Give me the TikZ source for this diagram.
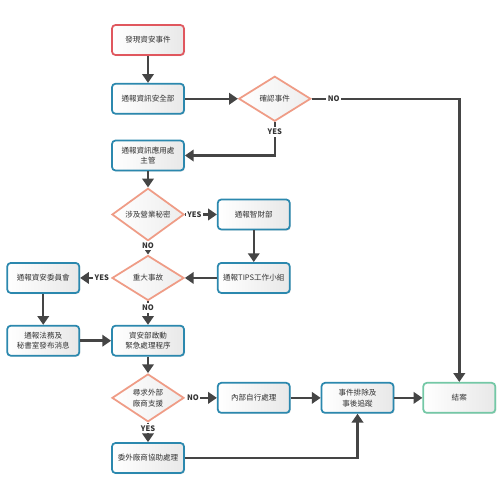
\documentclass[tikz,border=0pt]{standalone}
\usepackage{fontspec}
\setmainfont{Noto Sans CJK TC}
\usepackage{xcolor}
\usepackage{tikz}
\usetikzlibrary{shapes.geometric, arrows.meta, positioning, shadows}

\definecolor{boxblue}{HTML}{2B88AE}
\definecolor{decsalmon}{HTML}{EF9C86}
\definecolor{startred}{HTML}{E0575E}
\definecolor{endgreen}{HTML}{74C8A6}
\definecolor{lineg}{HTML}{454545}
\definecolor{txtg}{HTML}{333333}

\begin{document}
\begin{tikzpicture}[
  every node/.style={font=\fontsize{4.3}{6}\selectfont, text=txtg},
  proc/.style={rectangle, rounded corners=2pt, draw=boxblue, line width=1pt,
    left color=white, right color=black!9, minimum width=1.44cm, minimum height=0.6cm,
    align=center, inner sep=1pt,
    drop shadow={opacity=0.18, shadow xshift=0.6pt, shadow yshift=-0.6pt}},
  check/.style={diamond, draw=decsalmon, line width=1pt, left color=white, right color=black!7,
    minimum width=1.44cm, minimum height=0.9cm, inner sep=0pt, align=center},
  arrow/.style={-{Triangle[length=5pt, width=6.5pt]}, line width=1.4pt, lineg},
  lbl/.style={fill=white, inner sep=1pt, font=\fontsize{4.3}{5}\selectfont\bfseries, text=txtg},
]

\useasboundingbox[fill=white] (0,0) rectangle (10,-10);

% main column
\node[proc, draw=startred] (found) at (2.96,-0.8) {發現資安事件};
\node[proc, below=0.54cm of found] (notifysec) {通報資訊安全部};
\node[check, right=1.06cm of notifysec] (confirm) {確認事件};
\node[proc, below=0.5cm of notifysec] (notifymgr) {通報資訊應用處\\主管};
\node[check, below=0.32cm of notifymgr] (secret) {涉及營業秘密};
\node[check, below=0.26cm of secret] (major) {重大事故};
\node[proc, below=0.47cm of major] (emerg) {資安部啟動\\緊急處理程序};
\node[check, below=0.33cm of emerg] (vendor) {尋求外部\\廠商支援};
\node[proc, below=0.39cm of vendor] (outsrc) {委外廠商協助處理};

% right branch
\node[proc, right=0.64cm of secret] (ipdept) {通報智財部};
\node[proc, right=0.64cm of major] (tips) {通報TIPS工作小組};

% left branch
\node[proc, left=0.62cm of major] (committee) {通報資安委員會};
\node[proc, left=0.62cm of emerg] (legal) {通報法務及\\秘書室發布消息};

% bottom row
\node[proc, right=0.64cm of vendor] (internal) {內部自行處理};
\node[proc, right=0.6cm of internal] (followup) {事件排除及\\事後追蹤};
\node[proc, draw=endgreen, right=0.56cm of followup] (close) {結案};

% Arrows
\draw[arrow] (found) -- (notifysec);
\draw[arrow] (notifysec) -- (confirm);
\draw[arrow] (confirm.east) -- node[lbl, pos=0.15] {NO} (confirm.east -| close.north) -- (close.north);
\draw[arrow] (confirm.south) |- node[lbl, pos=0.15] {YES} (notifymgr.east);
\draw[arrow] (notifymgr) -- (secret);
\draw[arrow] (secret) -- node[lbl, pos=0.3] {YES} (ipdept);
\draw[arrow] (secret) -- node[lbl, pos=0.3] {NO} (major);
\draw[arrow] (ipdept) -- (tips);
\draw[arrow] (tips) -- (major);
\draw[arrow] (major) -- node[lbl, pos=0.3] {YES} (committee);
\draw[arrow] (major) -- node[lbl, pos=0.28] {NO} (emerg);
\draw[arrow] (committee) -- (legal);
\draw[arrow] (legal) -- (emerg);
\draw[arrow] (emerg) -- (vendor);
\draw[arrow] (vendor) -- node[lbl, pos=0.25] {NO} (internal);
\draw[arrow] (vendor) -- node[lbl, pos=0.3] {YES} (outsrc);
\draw[arrow] (internal) -- (followup);
\draw[arrow] (followup) -- (close);
\draw[arrow] (outsrc.east) -| (followup.south);

\end{tikzpicture}
\end{document}
